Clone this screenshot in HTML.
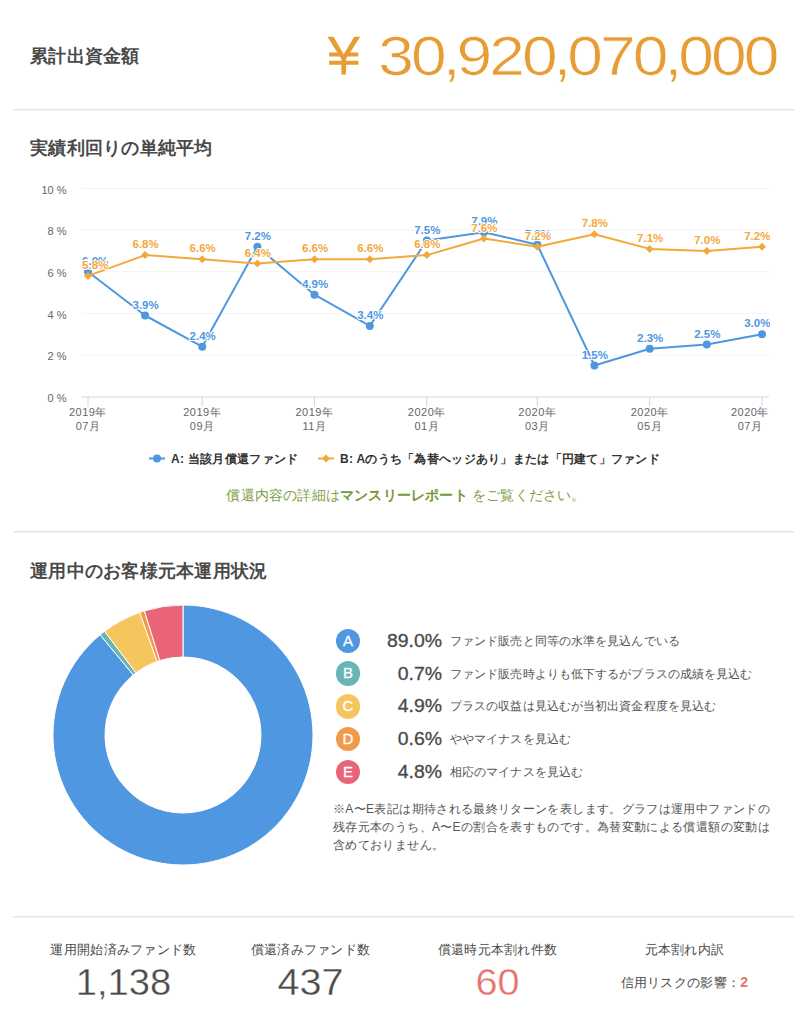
<!DOCTYPE html>
<html lang="ja"><head><meta charset="utf-8"><title>stats</title>
<style>
html,body{margin:0;padding:0;background:#fff;}
body{width:806px;height:1024px;position:relative;overflow:hidden;font-family:"Liberation Sans",sans-serif;color:#4a4a4a;}
.hr{position:absolute;left:13px;width:781px;height:1px;background:#e5e5e5;box-shadow:0 1px 0 #f2f2f2;}
.h{position:absolute;left:30px;font-size:18px;font-weight:bold;line-height:24px;color:#4a4a4a;white-space:nowrap;letter-spacing:0.25px}
.big{position:absolute;right:30px;top:23.9px;font-size:55px;line-height:64px;color:#e79c34;white-space:nowrap;transform:scaleX(1.166);transform-origin:100% 50%;-webkit-text-stroke:0.7px #fff;letter-spacing:-2.49px;}
.big i{font-style:normal;display:inline-block;margin:0 -1px 0 -1px}
.msg{position:absolute;left:0;width:806px;padding-left:6px;box-sizing:border-box;text-align:center;top:484.5px;font-size:14px;letter-spacing:0.2px;line-height:20px;color:#80a046;white-space:nowrap}
.msg b{color:#769738}
.row{position:absolute;left:336px;height:24px;line-height:24px;white-space:nowrap}
.dot{position:absolute;left:-0.4px;top:-0.3px;width:24.6px;height:24.6px;border-radius:50%;color:#fff;font-size:15px;text-align:center;line-height:24.6px;-webkit-text-stroke:0.3px #fff}
.pct{position:absolute;left:30px;width:76px;text-align:right;font-size:17.5px;color:#4a4a4a;transform:scaleX(1.11);transform-origin:100% 50%;-webkit-text-stroke:0.3px #4a4a4a}
.desc{position:absolute;left:114px;font-size:12px;letter-spacing:0.1px;color:#555}
.note{position:absolute;left:333px;top:799.5px;width:460px;white-space:nowrap;font-size:12px;letter-spacing:0.36px;line-height:18px;color:#555}
.col{position:absolute;top:938px;width:187px;text-align:center}
.col .l{font-size:13px;line-height:24px;color:#4a4a4a;letter-spacing:0.3px;white-space:nowrap}
.col .n{font-size:36px;line-height:40px;color:#4a4a4a;margin-top:0.8px;transform:scaleX(1.10);-webkit-text-stroke:0.35px #fff}
.col .s{font-size:13px;line-height:40px;color:#4a4a4a;white-space:nowrap;letter-spacing:0.3px}
.col .s b{font-size:14px}
.red{color:#e8706a !important}
</style></head><body>
<div class="h" style="top:44px">累計出資金額</div>
<svg width="44" height="50" viewBox="322 30 44 50" style="position:absolute;left:322px;top:30px"><path d="M327.5 36.8L333.5 36.8L343.7 54.3L354.2 36.8L360.2 36.8L346 59L346 74.5L341.4 74.5L341.4 59Z M329.1 52.4H340V56.5H329.1Z M347.4 52.4H358.3V56.5H347.4Z M329.1 60.8H358.3V64.7H329.1Z" fill="#e79c34"/></svg><div class="big">30<i>,</i>920<i>,</i>070<i>,</i>000</div>
<div class="hr" style="top:109px"></div>
<div class="h" style="top:136px">実績利回りの単純平均</div>
<svg class="chart" width="806" height="310" viewBox="0 170 806 310" style="position:absolute;left:0;top:170px;font-family:'Liberation Sans',sans-serif">
<path d="M81.5 397.0H769" stroke="#ccd6eb" stroke-width="1" fill="none"/>
<text x="66.5" y="402.0" text-anchor="end" font-size="11" fill="#666">0 %</text>
<path d="M81.5 355.1H769" stroke="#f3f3f3" stroke-width="1" fill="none"/>
<text x="66.5" y="360.4" text-anchor="end" font-size="11" fill="#666">2 %</text>
<path d="M81.5 313.4H769" stroke="#f3f3f3" stroke-width="1" fill="none"/>
<text x="66.5" y="318.7" text-anchor="end" font-size="11" fill="#666">4 %</text>
<path d="M81.5 271.8H769" stroke="#f3f3f3" stroke-width="1" fill="none"/>
<text x="66.5" y="277.1" text-anchor="end" font-size="11" fill="#666">6 %</text>
<path d="M81.5 230.1H769" stroke="#f3f3f3" stroke-width="1" fill="none"/>
<text x="66.5" y="235.4" text-anchor="end" font-size="11" fill="#666">8 %</text>
<path d="M81.5 188.5H769" stroke="#f3f3f3" stroke-width="1" fill="none"/>
<text x="66.5" y="193.8" text-anchor="end" font-size="11" fill="#666">10 %</text>
<path d="M88.0 396.7V406.7" stroke="#ccd6eb" stroke-width="1" fill="none"/>
<path d="M202.2 396.7V406.7" stroke="#ccd6eb" stroke-width="1" fill="none"/>
<path d="M314.5 396.7V406.7" stroke="#ccd6eb" stroke-width="1" fill="none"/>
<path d="M426.8 396.7V406.7" stroke="#ccd6eb" stroke-width="1" fill="none"/>
<path d="M537.3 396.7V406.7" stroke="#ccd6eb" stroke-width="1" fill="none"/>
<path d="M649.7 396.7V406.7" stroke="#ccd6eb" stroke-width="1" fill="none"/>
<path d="M762.0 396.7V406.7" stroke="#ccd6eb" stroke-width="1" fill="none"/>
<text x="88.0" y="416" text-anchor="middle" font-size="11" letter-spacing="0.5" fill="#666">2019年</text>
<text x="88.0" y="430" text-anchor="middle" font-size="11" letter-spacing="0.5" fill="#666">07月</text>
<text x="202.2" y="416" text-anchor="middle" font-size="11" letter-spacing="0.5" fill="#666">2019年</text>
<text x="202.2" y="430" text-anchor="middle" font-size="11" letter-spacing="0.5" fill="#666">09月</text>
<text x="314.5" y="416" text-anchor="middle" font-size="11" letter-spacing="0.5" fill="#666">2019年</text>
<text x="314.5" y="430" text-anchor="middle" font-size="11" letter-spacing="0.5" fill="#666">11月</text>
<text x="426.8" y="416" text-anchor="middle" font-size="11" letter-spacing="0.5" fill="#666">2020年</text>
<text x="426.8" y="430" text-anchor="middle" font-size="11" letter-spacing="0.5" fill="#666">01月</text>
<text x="537.3" y="416" text-anchor="middle" font-size="11" letter-spacing="0.5" fill="#666">2020年</text>
<text x="537.3" y="430" text-anchor="middle" font-size="11" letter-spacing="0.5" fill="#666">03月</text>
<text x="649.7" y="416" text-anchor="middle" font-size="11" letter-spacing="0.5" fill="#666">2020年</text>
<text x="649.7" y="430" text-anchor="middle" font-size="11" letter-spacing="0.5" fill="#666">05月</text>
<text x="750.0" y="416" text-anchor="middle" font-size="11" letter-spacing="0.5" fill="#666">2020年</text>
<text x="750.0" y="430" text-anchor="middle" font-size="11" letter-spacing="0.5" fill="#666">07月</text>
<g clip-path="url(#cp)">
<path d="M88.0 271.8 L145.1 315.5 L202.2 346.7 L257.4 246.8 L314.5 294.7 L369.8 325.9 L426.8 240.5 L483.9 232.2 L537.3 244.7 L594.4 365.5 L649.7 348.8 L706.8 344.6 L762.0 334.2" stroke="#4f98e1" stroke-width="2" fill="none" stroke-linejoin="round" stroke-linecap="round"/>
<circle cx="88.0" cy="271.8" r="4" fill="#4f98e1"/>
<circle cx="145.1" cy="315.5" r="4" fill="#4f98e1"/>
<circle cx="202.2" cy="346.7" r="4" fill="#4f98e1"/>
<circle cx="257.4" cy="246.8" r="4" fill="#4f98e1"/>
<circle cx="314.5" cy="294.7" r="4" fill="#4f98e1"/>
<circle cx="369.8" cy="325.9" r="4" fill="#4f98e1"/>
<circle cx="426.8" cy="240.5" r="4" fill="#4f98e1"/>
<circle cx="483.9" cy="232.2" r="4" fill="#4f98e1"/>
<circle cx="537.3" cy="244.7" r="4" fill="#4f98e1"/>
<circle cx="594.4" cy="365.5" r="4" fill="#4f98e1"/>
<circle cx="649.7" cy="348.8" r="4" fill="#4f98e1"/>
<circle cx="706.8" cy="344.6" r="4" fill="#4f98e1"/>
<circle cx="762.0" cy="334.2" r="4" fill="#4f98e1"/>
<path d="M88.0 275.9 L145.1 255.1 L202.2 259.3 L257.4 263.5 L314.5 259.3 L369.8 259.3 L426.8 255.1 L483.9 238.5 L537.3 246.8 L594.4 234.3 L649.7 248.9 L706.8 251.0 L762.0 246.8" stroke="#f3a83b" stroke-width="2" fill="none" stroke-linejoin="round" stroke-linecap="round"/>
<path d="M88.0 271.9L92.0 275.9L88.0 279.9L84.0 275.9Z" fill="#f3a83b"/>
<path d="M145.1 251.1L149.1 255.1L145.1 259.1L141.1 255.1Z" fill="#f3a83b"/>
<path d="M202.2 255.3L206.2 259.3L202.2 263.3L198.2 259.3Z" fill="#f3a83b"/>
<path d="M257.4 259.5L261.4 263.5L257.4 267.5L253.4 263.5Z" fill="#f3a83b"/>
<path d="M314.5 255.3L318.5 259.3L314.5 263.3L310.5 259.3Z" fill="#f3a83b"/>
<path d="M369.8 255.3L373.8 259.3L369.8 263.3L365.8 259.3Z" fill="#f3a83b"/>
<path d="M426.8 251.1L430.8 255.1L426.8 259.1L422.8 255.1Z" fill="#f3a83b"/>
<path d="M483.9 234.5L487.9 238.5L483.9 242.5L479.9 238.5Z" fill="#f3a83b"/>
<path d="M537.3 242.8L541.3 246.8L537.3 250.8L533.3 246.8Z" fill="#f3a83b"/>
<path d="M594.4 230.3L598.4 234.3L594.4 238.3L590.4 234.3Z" fill="#f3a83b"/>
<path d="M649.7 244.9L653.7 248.9L649.7 252.9L645.7 248.9Z" fill="#f3a83b"/>
<path d="M706.8 247.0L710.8 251.0L706.8 255.0L702.8 251.0Z" fill="#f3a83b"/>
<path d="M762.0 242.8L766.0 246.8L762.0 250.8L758.0 246.8Z" fill="#f3a83b"/>
</g>
<defs><clipPath id="cp"><rect x="81" y="180" width="688" height="222"/></clipPath><clipPath id="cp2"><rect x="60" y="170" width="710" height="240"/></clipPath></defs>
<g clip-path="url(#cp2)">
<text x="95.2" y="264.8" text-anchor="middle" font-size="11.5" font-weight="bold" fill="#4f98e1" stroke="#fff" stroke-width="2" stroke-linejoin="round" paint-order="stroke">6.0%</text>
<text x="145.6" y="308.5" text-anchor="middle" font-size="11.5" font-weight="bold" fill="#4f98e1" stroke="#fff" stroke-width="2" stroke-linejoin="round" paint-order="stroke">3.9%</text>
<text x="202.7" y="339.7" text-anchor="middle" font-size="11.5" font-weight="bold" fill="#4f98e1" stroke="#fff" stroke-width="2" stroke-linejoin="round" paint-order="stroke">2.4%</text>
<text x="257.9" y="239.8" text-anchor="middle" font-size="11.5" font-weight="bold" fill="#4f98e1" stroke="#fff" stroke-width="2" stroke-linejoin="round" paint-order="stroke">7.2%</text>
<text x="315.0" y="287.7" text-anchor="middle" font-size="11.5" font-weight="bold" fill="#4f98e1" stroke="#fff" stroke-width="2" stroke-linejoin="round" paint-order="stroke">4.9%</text>
<text x="370.3" y="318.9" text-anchor="middle" font-size="11.5" font-weight="bold" fill="#4f98e1" stroke="#fff" stroke-width="2" stroke-linejoin="round" paint-order="stroke">3.4%</text>
<text x="427.3" y="233.5" text-anchor="middle" font-size="11.5" font-weight="bold" fill="#4f98e1" stroke="#fff" stroke-width="2" stroke-linejoin="round" paint-order="stroke">7.5%</text>
<text x="484.4" y="225.2" text-anchor="middle" font-size="11.5" font-weight="bold" fill="#4f98e1" stroke="#fff" stroke-width="2" stroke-linejoin="round" paint-order="stroke">7.9%</text>
<text x="537.8" y="237.7" text-anchor="middle" font-size="11.5" font-weight="bold" fill="#4f98e1" stroke="#fff" stroke-width="2" stroke-linejoin="round" paint-order="stroke">7.3%</text>
<text x="594.9" y="358.5" text-anchor="middle" font-size="11.5" font-weight="bold" fill="#4f98e1" stroke="#fff" stroke-width="2" stroke-linejoin="round" paint-order="stroke">1.5%</text>
<text x="650.2" y="341.8" text-anchor="middle" font-size="11.5" font-weight="bold" fill="#4f98e1" stroke="#fff" stroke-width="2" stroke-linejoin="round" paint-order="stroke">2.3%</text>
<text x="707.3" y="337.6" text-anchor="middle" font-size="11.5" font-weight="bold" fill="#4f98e1" stroke="#fff" stroke-width="2" stroke-linejoin="round" paint-order="stroke">2.5%</text>
<text x="757.3" y="327.2" text-anchor="middle" font-size="11.5" font-weight="bold" fill="#4f98e1" stroke="#fff" stroke-width="2" stroke-linejoin="round" paint-order="stroke">3.0%</text>
<text x="95.2" y="268.9" text-anchor="middle" font-size="11.5" font-weight="bold" fill="#f3a83b" stroke="#fff" stroke-width="2" stroke-linejoin="round" paint-order="stroke">5.8%</text>
<text x="145.6" y="248.1" text-anchor="middle" font-size="11.5" font-weight="bold" fill="#f3a83b" stroke="#fff" stroke-width="2" stroke-linejoin="round" paint-order="stroke">6.8%</text>
<text x="202.7" y="252.3" text-anchor="middle" font-size="11.5" font-weight="bold" fill="#f3a83b" stroke="#fff" stroke-width="2" stroke-linejoin="round" paint-order="stroke">6.6%</text>
<text x="257.9" y="256.5" text-anchor="middle" font-size="11.5" font-weight="bold" fill="#f3a83b" stroke="#fff" stroke-width="2" stroke-linejoin="round" paint-order="stroke">6.4%</text>
<text x="315.0" y="252.3" text-anchor="middle" font-size="11.5" font-weight="bold" fill="#f3a83b" stroke="#fff" stroke-width="2" stroke-linejoin="round" paint-order="stroke">6.6%</text>
<text x="370.3" y="252.3" text-anchor="middle" font-size="11.5" font-weight="bold" fill="#f3a83b" stroke="#fff" stroke-width="2" stroke-linejoin="round" paint-order="stroke">6.6%</text>
<text x="427.3" y="248.1" text-anchor="middle" font-size="11.5" font-weight="bold" fill="#f3a83b" stroke="#fff" stroke-width="2" stroke-linejoin="round" paint-order="stroke">6.8%</text>
<text x="484.4" y="231.5" text-anchor="middle" font-size="11.5" font-weight="bold" fill="#f3a83b" stroke="#fff" stroke-width="2" stroke-linejoin="round" paint-order="stroke">7.6%</text>
<text x="537.8" y="239.8" text-anchor="middle" font-size="11.5" font-weight="bold" fill="#f3a83b" stroke="#fff" stroke-width="2" stroke-linejoin="round" paint-order="stroke">7.2%</text>
<text x="594.9" y="227.3" text-anchor="middle" font-size="11.5" font-weight="bold" fill="#f3a83b" stroke="#fff" stroke-width="2" stroke-linejoin="round" paint-order="stroke">7.8%</text>
<text x="650.2" y="241.9" text-anchor="middle" font-size="11.5" font-weight="bold" fill="#f3a83b" stroke="#fff" stroke-width="2" stroke-linejoin="round" paint-order="stroke">7.1%</text>
<text x="707.3" y="244.0" text-anchor="middle" font-size="11.5" font-weight="bold" fill="#f3a83b" stroke="#fff" stroke-width="2" stroke-linejoin="round" paint-order="stroke">7.0%</text>
<text x="757.3" y="239.8" text-anchor="middle" font-size="11.5" font-weight="bold" fill="#f3a83b" stroke="#fff" stroke-width="2" stroke-linejoin="round" paint-order="stroke">7.2%</text>
</g>
<path d="M149 458.5H165" stroke="#4f98e1" stroke-width="2"/><circle cx="157" cy="458.5" r="4" fill="#4f98e1"/>
<text x="171" y="462.5" font-size="12" font-weight="bold" letter-spacing="0.28" fill="#333">A: 当該月償還ファンド</text>
<path d="M318 458.5H334" stroke="#f3a83b" stroke-width="2"/><path d="M326 454.5l4 4l-4 4l-4 -4z" fill="#f3a83b"/>
<text x="340" y="462.5" font-size="12" font-weight="bold" letter-spacing="0.28" fill="#333">B: Aのうち「為替ヘッジあり」または「円建て」ファンド</text>
</svg>
<div class="msg">償還内容の詳細は<b>マンスリーレポート</b> をご覧ください。</div>
<div class="hr" style="top:531px"></div>
<div class="h" style="top:559px">運用中のお客様元本運用状況</div>
<svg width="300" height="300" viewBox="32.5 585 300 300" style="position:absolute;left:32.5px;top:585px">
<path d="M182.50 605.00A130 130 0 1 1 99.63 634.83L132.78 674.90A78 78 0 1 0 182.50 657.00Z" fill="#4f98e1" stroke="#fff" stroke-width="1" stroke-linejoin="round"/>
<path d="M99.63 634.83A130 130 0 0 1 104.12 631.29L135.47 672.77A78 78 0 0 0 132.78 674.90Z" fill="#68b5b3" stroke="#fff" stroke-width="1" stroke-linejoin="round"/>
<path d="M104.12 631.29A130 130 0 0 1 139.23 612.41L156.54 661.45A78 78 0 0 0 135.47 672.77Z" fill="#f5c55e" stroke="#fff" stroke-width="1" stroke-linejoin="round"/>
<path d="M139.23 612.41A130 130 0 0 1 143.88 610.87L159.33 660.52A78 78 0 0 0 156.54 661.45Z" fill="#f09a4a" stroke="#fff" stroke-width="1" stroke-linejoin="round"/>
<path d="M143.88 610.87A130 130 0 0 1 182.50 605.00L182.50 657.00A78 78 0 0 0 159.33 660.52Z" fill="#ea6479" stroke="#fff" stroke-width="1" stroke-linejoin="round"/>
</svg>
<div class="row" style="top:628.8px"><span class="dot" style="background:#4f98e1">A</span><span class="pct">89.0%</span><span class="desc">ファンド販売と同等の水準を見込んでいる</span></div>
<div class="row" style="top:661.5px"><span class="dot" style="background:#68b5b3">B</span><span class="pct">0.7%</span><span class="desc">ファンド販売時よりも低下するがプラスの成績を見込む</span></div>
<div class="row" style="top:694.3px"><span class="dot" style="background:#f5c55e">C</span><span class="pct">4.9%</span><span class="desc">プラスの収益は見込むが当初出資金程度を見込む</span></div>
<div class="row" style="top:727.0px"><span class="dot" style="background:#f09a4a">D</span><span class="pct">0.6%</span><span class="desc">ややマイナスを見込む</span></div>
<div class="row" style="top:759.8px"><span class="dot" style="background:#ea6479">E</span><span class="pct">4.8%</span><span class="desc">相応のマイナスを見込む</span></div>
<div class="note">※A〜E表記は期待される最終リターンを表します。グラフは運用中ファンドの<br>残存元本のうち、A〜Eの割合を表すものです。為替変動による償還額の変動は<br>含めておりません。</div>
<div class="hr" style="top:916px"></div>
<div class="col" style="left:30px"><div class="l">運用開始済みファンド数</div><div class="n" style="transform:scaleX(1.06)">1,138</div></div>
<div class="col" style="left:217px"><div class="l">償還済みファンド数</div><div class="n">437</div></div>
<div class="col" style="left:404px"><div class="l">償還時元本割れ件数</div><div class="n red">60</div></div>
<div class="col" style="left:591px"><div class="l">元本割れ内訳</div><div class="s">信用リスクの影響：<b class="red">2</b></div></div>
</body></html>
